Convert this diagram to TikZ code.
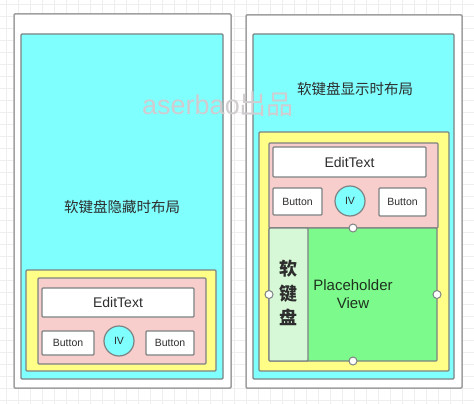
\documentclass[tikz,border=0pt]{standalone}
\usepackage{fontspec}
\setmainfont{Liberation Sans}
\newfontfamily\cjk{Noto Sans CJK SC}
\definecolor{gridgray}{RGB}{238,238,238}
\definecolor{phonegray}{RGB}{160,160,160}
\definecolor{boxgray}{RGB}{125,130,130}
\definecolor{screencyan}{RGB}{128,255,255}
\definecolor{layoutyellow}{RGB}{255,255,136}
\definecolor{barpink}{RGB}{248,206,204}
\definecolor{viewgreen}{RGB}{125,250,140}
\definecolor{kbdgreen}{RGB}{214,248,214}
\definecolor{markgray}{RGB}{208,204,208}
\definecolor{textgray}{RGB}{45,45,45}
\tikzset{
  box/.style={draw=boxgray, line width=1.2pt, rounded corners=1pt, anchor=north west,
    inner sep=0pt, outer sep=0pt},
  phone/.style={box, draw=phonegray, line width=1.5pt, fill=white},
  screen/.style={box, fill=screencyan},
  panel/.style={box, fill=layoutyellow},
  bar/.style={box, fill=barpink},
  field/.style={box, fill=white, text=textgray, font=\fontsize{14}{16}\selectfont},
  btn/.style={box, fill=white, text=textgray, font=\fontsize{10.5}{12}\selectfont},
  iv/.style={circle, draw=boxgray, line width=1.2pt, fill=screencyan, minimum size=30pt,
    inner sep=0pt, text=textgray, font=\fontsize{10.5}{12}\selectfont},
  handle/.style={circle, draw=boxgray, line width=1pt, fill=white, minimum size=8pt, inner sep=0pt},
  caption/.style={text=textgray, font=\cjk\fontsize{14.5}{16}\selectfont}
}
\begin{document}
\begin{tikzpicture}[x=1pt, y=-1pt]
  \useasboundingbox (0,0) rectangle (474,404);
  % grid
  \foreach \gx in {6,18,...,474} \draw[gridgray, line width=0.5pt] (\gx,0) -- (\gx,404);
  \foreach \gy in {4,16,...,404} \draw[gridgray, line width=0.5pt] (0,\gy) -- (474,\gy);

  % keyboard hidden
  \node[phone, minimum width=217pt, minimum height=374pt] (phoneL) at (14,14) {};
  \node[screen, minimum width=202pt, minimum height=345pt] (screenL) at (21,34) {};
  \node[caption] (captionL) at (122,207) {软键盘隐藏时布局};
  \node[panel, minimum width=190pt, minimum height=101pt] (panelL) at (26,270) {};
  \node[bar, minimum width=168pt, minimum height=86pt] (barL) at (38,278) {};
  \node[field, minimum width=152pt, minimum height=29pt] (editL) at (42,288) {EditText};
  \node[btn, minimum width=52pt, minimum height=24pt] (btnLa) at (42,331) {Button};
  \node[iv] (ivL) at (119,341) {IV};
  \node[btn, minimum width=48pt, minimum height=24pt] (btnLb) at (146,331) {Button};

  % keyboard shown
  \node[phone, minimum width=216pt, minimum height=373pt] (phoneR) at (246,15) {};
  \node[screen, minimum width=201pt, minimum height=345pt] (screenR) at (253,34) {};
  \node[caption] (captionR) at (355,89) {软键盘显示时布局};
  \node[panel, minimum width=190pt, minimum height=239pt] (panelR) at (259,132) {};
  \node[bar, minimum width=169pt, minimum height=85pt] (barR) at (269,143) {};
  \node[field, minimum width=153pt, minimum height=30pt] (editR) at (273,147) {EditText};
  \node[btn, minimum width=49pt, minimum height=27pt] (btnRa) at (273,188) {Button};
  \node[iv] (ivR) at (350,201) {IV};
  \node[btn, minimum width=47pt, minimum height=28pt] (btnRb) at (379,188) {Button};
  \node[box, fill=viewgreen, minimum width=168pt, minimum height=133pt] (holder) at (269,228) {};
  \node[box, fill=kbdgreen, minimum width=39pt, minimum height=133pt] (kbd) at (269,228) {};
  \node[align=center, text=textgray, font=\cjk\bfseries\fontsize{18}{24.5}\selectfont]
    (kbdtext) at (288,293) {软\\键\\盘};
  \node[align=center, text={rgb,255:red,30;green,50;blue,30}, font=\fontsize{15}{18}\selectfont]
    (holdertext) at (353,294) {Placeholder\\View};
  \node[handle] (hN) at (holder.north) {};
  \node[handle] (hS) at (holder.south) {};
  \node[handle] (hW) at (holder.west) {};
  \node[handle] (hE) at (holder.east) {};

  % watermark
  \node[text=markgray, font=\fontsize{27}{30}\selectfont] (mark) at (218,104) {aserbao{\cjk 出品}};
\end{tikzpicture}
\end{document}
